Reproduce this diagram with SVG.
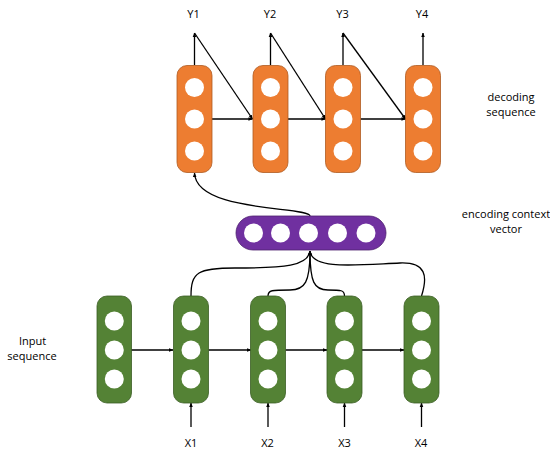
<svg xmlns="http://www.w3.org/2000/svg" width="550" height="459" viewBox="0 0 550 459">
<style>
.dec{fill:#ED7D31;stroke:#AE5A21;stroke-width:0.8}
.enc{fill:#548235;stroke:#3B5E25;stroke-width:0.8}
.ctx{fill:#7030A0;stroke:#4F2270;stroke-width:0.8}
.dot{fill:#FFFFFF}
.ln{fill:none;stroke:#000;stroke-width:1.3}
.t{font-family:"Open Sans","Liberation Sans",sans-serif;font-size:11px;fill:#000;text-anchor:middle}
</style>
<defs>
<marker id="ah" viewBox="0 0 10 10" refX="9" refY="5" markerWidth="4.5" markerHeight="4.5" orient="auto" markerUnits="userSpaceOnUse">
<path d="M0,1 L10,5 L0,9 z" fill="#000"/>
</marker>
</defs>
<rect width="550" height="459" fill="#fff"/>
<g id="connectors">
<path class="ln" d="M194.5,65 V33" marker-end="url(#ah)"/>
<path class="ln" d="M270.5,65 V33" marker-end="url(#ah)"/>
<path class="ln" d="M343,65 V33" marker-end="url(#ah)"/>
<path class="ln" d="M423,65 V33" marker-end="url(#ah)"/>
<path class="ln" d="M194.5,33 L252.5,119" marker-end="url(#ah)"/>
<path class="ln" d="M270.5,33 L325.5,119" marker-end="url(#ah)"/>
<path class="ln" d="M343,33 L405.5,119" marker-end="url(#ah)"/>
<path class="ln" d="M212,119 H252.5" marker-end="url(#ah)"/>
<path class="ln" d="M288,119 H325.5" marker-end="url(#ah)"/>
<path class="ln" d="M360.5,119 H405.5" marker-end="url(#ah)"/>
<path class="ln" d="M310,216 C310,206 196,213 194.5,173" marker-end="url(#ah)"/>
<path class="ln" d="M191,296 C191,272 198,268 235,268 C285,268 308,266 310,251" marker-end="url(#ah)"/>
<path class="ln" d="M268,296 C268,290 272,290 290,290 C305,290 310,282 310,251" marker-end="url(#ah)"/>
<path class="ln" d="M344.5,296 C344.5,290 341,290 328,290 C314,290 310,282 310,251" marker-end="url(#ah)"/>
<path class="ln" d="M421.5,296 C428,276 426,262 400,263 C355,265 312,270 310,251" marker-end="url(#ah)"/>
<path class="ln" d="M131,350 H173" marker-end="url(#ah)"/>
<path class="ln" d="M208.5,350 H251" marker-end="url(#ah)"/>
<path class="ln" d="M285.5,350 H327" marker-end="url(#ah)"/>
<path class="ln" d="M362,350 H404" marker-end="url(#ah)"/>
<path class="ln" d="M191,427 V403" marker-end="url(#ah)"/>
<path class="ln" d="M268,427 V403" marker-end="url(#ah)"/>
<path class="ln" d="M344.5,427 V403" marker-end="url(#ah)"/>
<path class="ln" d="M421.5,427 V403" marker-end="url(#ah)"/>
</g>
<g id="dec1"><rect class="dec" x="177" y="65.5" width="35" height="107" rx="10"/><circle class="dot" cx="194.5" cy="87.5" r="9.5"/><circle class="dot" cx="194.5" cy="119" r="9.5"/><circle class="dot" cx="194.5" cy="151" r="9.5"/></g>
<g id="dec2"><rect class="dec" x="253" y="65.5" width="35" height="107" rx="10"/><circle class="dot" cx="270.5" cy="87.5" r="9.5"/><circle class="dot" cx="270.5" cy="119" r="9.5"/><circle class="dot" cx="270.5" cy="151" r="9.5"/></g>
<g id="dec3"><rect class="dec" x="325.5" y="65.5" width="35" height="107" rx="10"/><circle class="dot" cx="343" cy="87.5" r="9.5"/><circle class="dot" cx="343" cy="119" r="9.5"/><circle class="dot" cx="343" cy="151" r="9.5"/></g>
<g id="dec4"><rect class="dec" x="405.5" y="65.5" width="35" height="107" rx="10"/><circle class="dot" cx="423" cy="87.5" r="9.5"/><circle class="dot" cx="423" cy="119" r="9.5"/><circle class="dot" cx="423" cy="151" r="9.5"/></g>
<g id="context"><rect class="ctx" x="236" y="216" width="150" height="34" rx="17"/><circle class="dot" cx="253.5" cy="233" r="9.5"/><circle class="dot" cx="280.5" cy="233" r="9.5"/><circle class="dot" cx="308.5" cy="233" r="9.5"/><circle class="dot" cx="337.5" cy="233" r="9.5"/><circle class="dot" cx="366" cy="233" r="9.5"/></g>
<g id="enc0"><rect class="enc" x="97" y="296" width="34.5" height="107" rx="10"/><circle class="dot" cx="114.3" cy="321" r="9.5"/><circle class="dot" cx="114.3" cy="350" r="9.5"/><circle class="dot" cx="114.3" cy="379" r="9.5"/></g>
<g id="enc1"><rect class="enc" x="173.5" y="296" width="35" height="107" rx="10"/><circle class="dot" cx="191" cy="321" r="9.5"/><circle class="dot" cx="191" cy="350" r="9.5"/><circle class="dot" cx="191" cy="379" r="9.5"/></g>
<g id="enc2"><rect class="enc" x="250.5" y="296" width="35" height="107" rx="10"/><circle class="dot" cx="268" cy="321" r="9.5"/><circle class="dot" cx="268" cy="350" r="9.5"/><circle class="dot" cx="268" cy="379" r="9.5"/></g>
<g id="enc3"><rect class="enc" x="327" y="296" width="35" height="107" rx="10"/><circle class="dot" cx="344.5" cy="321" r="9.5"/><circle class="dot" cx="344.5" cy="350" r="9.5"/><circle class="dot" cx="344.5" cy="379" r="9.5"/></g>
<g id="enc4"><rect class="enc" x="404" y="296" width="35" height="107" rx="10"/><circle class="dot" cx="421.5" cy="321" r="9.5"/><circle class="dot" cx="421.5" cy="350" r="9.5"/><circle class="dot" cx="421.5" cy="379" r="9.5"/></g>
<g id="labels">
<text class="t" x="193.5" y="18">Y1</text>
<text class="t" x="270" y="18">Y2</text>
<text class="t" x="342.5" y="18">Y3</text>
<text class="t" x="422" y="18">Y4</text>
<text class="t" x="191" y="447">X1</text>
<text class="t" x="267.5" y="447">X2</text>
<text class="t" x="344.5" y="447">X3</text>
<text class="t" x="421" y="447">X4</text>
<text class="t" x="32.5" y="345">Input</text>
<text class="t" x="32" y="360">sequence</text>
<text class="t" x="511" y="101">decoding</text>
<text class="t" x="511" y="116">sequence</text>
<text class="t" x="506" y="218">encoding context</text>
<text class="t" x="506" y="233">vector</text>
</g>
</svg>
